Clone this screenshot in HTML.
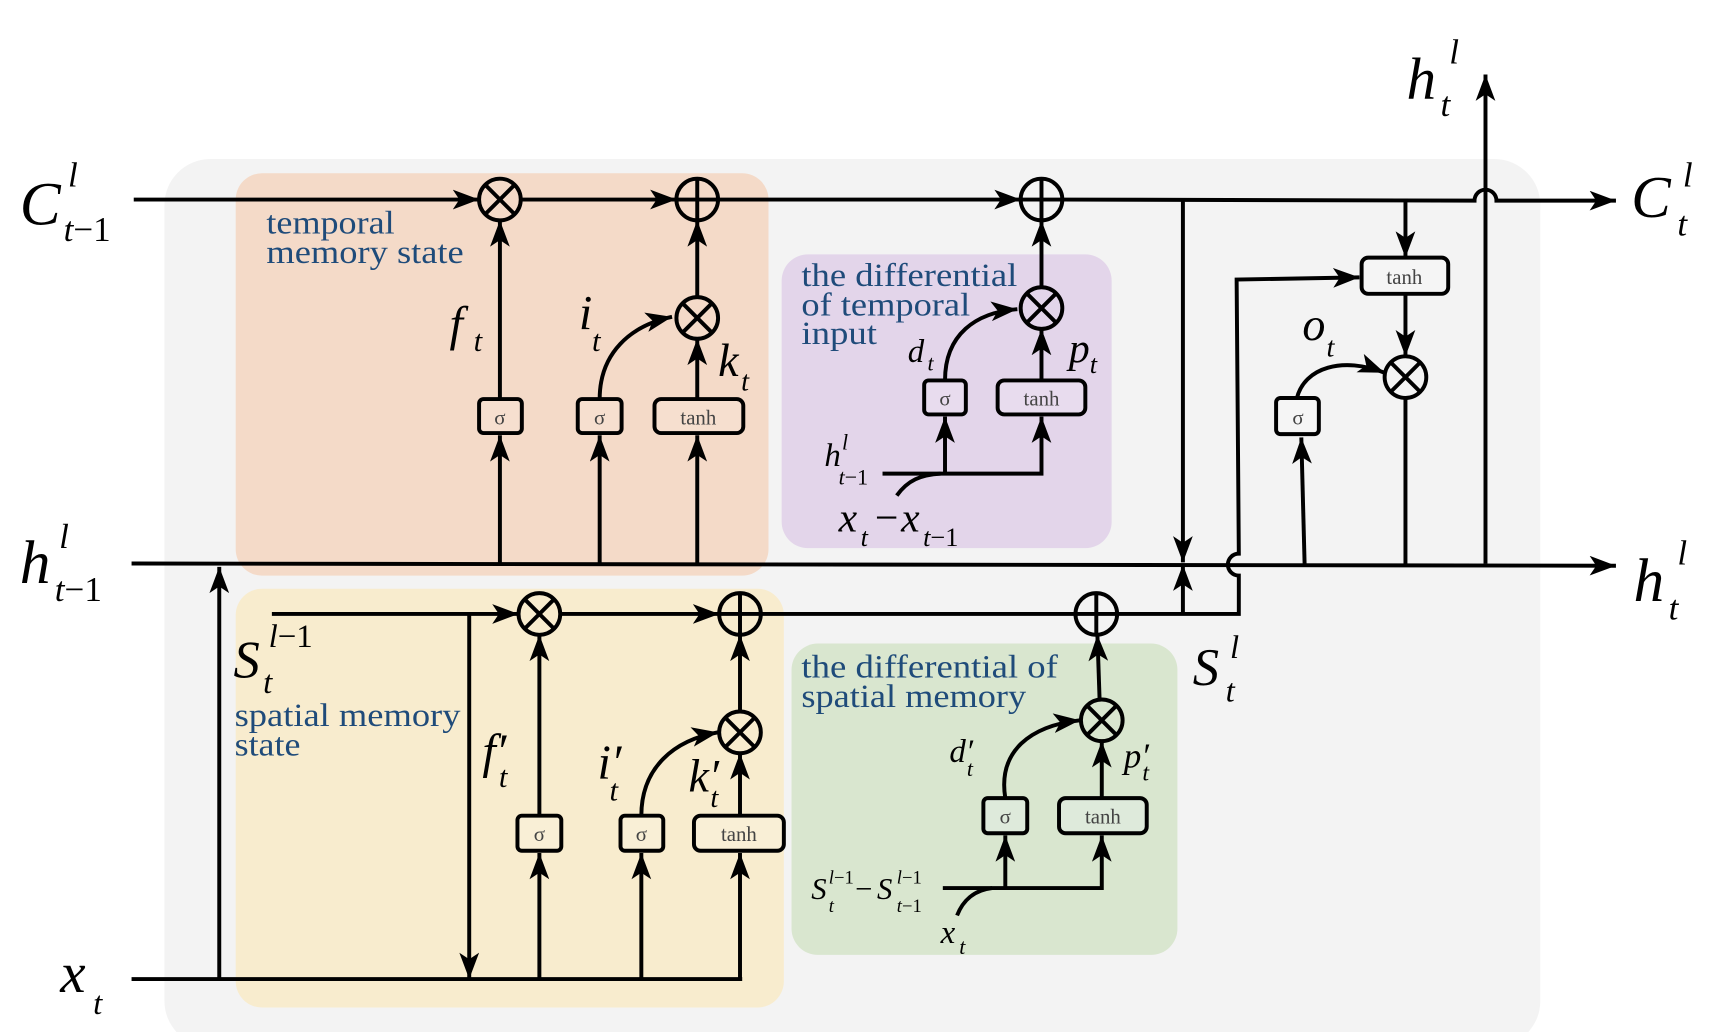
<!DOCTYPE html>
<html><head><meta charset="utf-8"><style>
html,body{margin:0;padding:0;background:#fff;}
svg{display:block;}
.l{stroke:#000;stroke-width:3.6;fill:none;}
.m{font-family:"Liberation Serif","DejaVu Serif",serif;font-style:italic;fill:#000;}
.b{font-family:"Liberation Serif","DejaVu Serif",serif;fill:#1f4b7a;font-size:30px;}
.g{font-family:"Liberation Serif","DejaVu Serif",serif;fill:#444;font-size:19px;text-anchor:middle;}
.box{stroke:#000;stroke-width:3.6;}
</style></head><body>
<svg width="1719" height="1032" viewBox="0 0 1568 941.3" preserveAspectRatio="none" xmlns="http://www.w3.org/2000/svg">
<defs>
<marker id="a" markerUnits="userSpaceOnUse" markerWidth="26" markerHeight="20" refX="24" refY="9" orient="auto"><path d="M0,0 L24,9 L0,18 L6,9 z" fill="#000"/></marker>
</defs>
<rect x="0" y="0" width="1568" height="942" fill="#fff"/>
<rect x="150" y="145" width="1255" height="810" rx="42" fill="#f3f3f3"/>
<rect x="215" y="158" width="486" height="367" rx="24" fill="#f4dac8"/>
<rect x="713" y="232" width="301" height="268" rx="24" fill="#e3d5ea"/>
<rect x="215" y="537" width="500" height="382" rx="24" fill="#f8ecce"/>
<rect x="722" y="587" width="352" height="284" rx="24" fill="#d9e6cf"/>

<!-- C line -->
<path class="l" d="M122,182 L437,182" marker-end="url(#a)"/>
<path class="l" d="M475,182 L617,182" marker-end="url(#a)"/>
<path class="l" d="M655,182 L931,182" marker-end="url(#a)"/>
<path class="l" d="M969,182 L1345,183 A10,10 0 0 1 1365,183 L1474,183" marker-end="url(#a)"/>
<!-- h line -->
<path class="l" d="M120,514 L1474,516" marker-end="url(#a)"/>
<!-- x line -->
<path class="l" d="M120,893 L677,893"/>
<path class="l" d="M200,893 L200,517" marker-end="url(#a)"/>
<!-- S line -->
<path class="l" d="M248,560 L473,560" marker-end="url(#a)"/>
<path class="l" d="M511,560 L656,560" marker-end="url(#a)"/>
<path class="l" d="M694,560 L1130,560 L1130,525 A10,10 0 0 1 1130,505 L1128,255 L1240,253" marker-end="url(#a)"/>
<path class="l" d="M428,560 L428,893" marker-end="url(#a)"/>
<path class="l" d="M1079,182 L1079,513" marker-end="url(#a)"/>
<path class="l" d="M1079,560 L1079,515" marker-end="url(#a)"/>
<!-- h_t up -->
<path class="l" d="M1355,514 L1355,68" marker-end="url(#a)"/>

<!-- orange gates -->
<path class="l" d="M456,514 L456,397" marker-end="url(#a)"/>
<path class="l" d="M456,364 L456,201" marker-end="url(#a)"/>
<path class="l" d="M547,514 L547,397" marker-end="url(#a)"/>
<path class="l" d="M547,364 C547,322 575,297 613,289" marker-end="url(#a)"/>
<path class="l" d="M636,514 L636,397" marker-end="url(#a)"/>
<path class="l" d="M636,364 L636,309" marker-end="url(#a)"/>
<path class="l" d="M636,271 L636,201" marker-end="url(#a)"/>
<rect class="box" x="437" y="364" width="39" height="31" rx="4" fill="#f6dfcf"/><text class="g" x="456" y="387">σ</text>
<rect class="box" x="527" y="364" width="40" height="31" rx="4" fill="#f6dfcf"/><text class="g" x="547" y="387">σ</text>
<rect class="box" x="597" y="364" width="81" height="31" rx="6" fill="#f6dfcf"/><text class="g" x="637" y="387">tanh</text>

<!-- purple -->
<path class="l" d="M805,432 L950,432 L950,380" marker-end="url(#a)"/>
<path class="l" d="M862,432 L862,380" marker-end="url(#a)"/>
<path class="l" d="M818,452 C828,438 840,433 858,432"/>
<path class="l" d="M862,347 C862,305 890,285 928,282" marker-end="url(#a)"/>
<path class="l" d="M950,347 L950,300" marker-end="url(#a)"/>
<path class="l" d="M950,261 L950,201" marker-end="url(#a)"/>
<rect class="box" x="843" y="347" width="38" height="31" rx="4" fill="#e8dcee"/><text class="g" x="862" y="370">σ</text>
<rect class="box" x="910" y="347" width="80" height="31" rx="6" fill="#e8dcee"/><text class="g" x="950" y="370">tanh</text>

<!-- right output gate -->
<path class="l" d="M1282,183 L1282,235" marker-end="url(#a)"/>
<path class="l" d="M1282,269 L1282,325" marker-end="url(#a)"/>
<path class="l" d="M1282,514 L1282,363"/>
<path class="l" d="M1190,514 L1187,399" marker-end="url(#a)"/>
<path class="l" d="M1183,363 C1190,335 1225,325 1263,340" marker-end="url(#a)"/>
<rect class="box" x="1242" y="235" width="79" height="33" rx="6" fill="#f5f5f5"/><text class="g" x="1281" y="259">tanh</text>
<rect class="box" x="1164" y="363" width="39" height="33" rx="4" fill="#f5f5f5"/><text class="g" x="1184" y="387">σ</text>

<!-- yellow gates -->
<path class="l" d="M492,893 L492,778" marker-end="url(#a)"/>
<path class="l" d="M492,744 L492,579" marker-end="url(#a)"/>
<path class="l" d="M585,893 L585,778" marker-end="url(#a)"/>
<path class="l" d="M585,744 C585,700 615,675 655,668" marker-end="url(#a)"/>
<path class="l" d="M675,893 L675,778" marker-end="url(#a)"/>
<path class="l" d="M675,744 L675,687" marker-end="url(#a)"/>
<path class="l" d="M675,649 L675,579" marker-end="url(#a)"/>
<rect class="box" x="472" y="744" width="40" height="32" rx="4" fill="#f9efd6"/><text class="g" x="492" y="767">σ</text>
<rect class="box" x="566" y="744" width="39" height="32" rx="4" fill="#f9efd6"/><text class="g" x="585" y="767">σ</text>
<rect class="box" x="633" y="744" width="82" height="32" rx="6" fill="#f9efd6"/><text class="g" x="674" y="767">tanh</text>

<!-- green -->
<path class="l" d="M860,810 L1005,810 L1005,762" marker-end="url(#a)"/>
<path class="l" d="M917,810 L917,762" marker-end="url(#a)"/>
<path class="l" d="M873,835 C878,822 888,812 905,810"/>
<path class="l" d="M917,728 C910,685 940,662 985,657" marker-end="url(#a)"/>
<path class="l" d="M1005,728 L1005,676" marker-end="url(#a)"/>
<path class="l" d="M1003,638 L1001,579" marker-end="url(#a)"/>
<rect class="box" x="897" y="728" width="40" height="32" rx="4" fill="#deeadb"/><text class="g" x="917" y="751">σ</text>
<rect class="box" x="966" y="728" width="80" height="32" rx="6" fill="#deeadb"/><text class="g" x="1006" y="751">tanh</text>

<!-- circles -->
<g fill="none" stroke="#000" stroke-width="3.6">
<g transform="translate(456,182)"><circle r="19" fill="#f4dac8"/><path d="M-13,-13 L13,13 M13,-13 L-13,13"/></g>
<g transform="translate(636,182)"><circle r="19" fill="#f4dac8"/><path d="M-19,0 L19,0 M0,-19 L0,19"/></g>
<g transform="translate(636,290)"><circle r="19" fill="#f4dac8"/><path d="M-13,-13 L13,13 M13,-13 L-13,13"/></g>
<g transform="translate(950,182)"><circle r="19" fill="#f3f3f3"/><path d="M-19,0 L19,0 M0,-19 L0,19"/></g>
<g transform="translate(950,281)"><circle r="19" fill="#e3d5ea"/><path d="M-13,-13 L13,13 M13,-13 L-13,13"/></g>
<g transform="translate(1282,344)"><circle r="19" fill="#f3f3f3"/><path d="M-13,-13 L13,13 M13,-13 L-13,13"/></g>
<g transform="translate(492,560)"><circle r="19" fill="#f8ecce"/><path d="M-13,-13 L13,13 M13,-13 L-13,13"/></g>
<g transform="translate(675,560)"><circle r="19" fill="#f8ecce"/><path d="M-19,0 L19,0 M0,-19 L0,19"/></g>
<g transform="translate(675,668)"><circle r="19" fill="#f8ecce"/><path d="M-13,-13 L13,13 M13,-13 L-13,13"/></g>
<g transform="translate(1000,560)"><circle r="19" fill="#f3f3f3"/><path d="M-19,0 L19,0 M0,-19 L0,19"/></g>
<g transform="translate(1005,657)"><circle r="19" fill="#d9e6cf"/><path d="M-13,-13 L13,13 M13,-13 L-13,13"/></g>
</g>

<!-- blue labels -->
<text class="b" x="243" y="213" textLength="117" lengthAdjust="spacingAndGlyphs">temporal</text>
<text class="b" x="243" y="240" textLength="180" lengthAdjust="spacingAndGlyphs">memory state</text>
<text class="b" x="731" y="261" textLength="197" lengthAdjust="spacingAndGlyphs">the differential</text>
<text class="b" x="731" y="288" textLength="154" lengthAdjust="spacingAndGlyphs">of temporal</text>
<text class="b" x="731" y="314" textLength="69" lengthAdjust="spacingAndGlyphs">input</text>
<text class="b" x="214" y="662" textLength="206" lengthAdjust="spacingAndGlyphs">spatial memory</text>
<text class="b" x="214" y="689" textLength="60" lengthAdjust="spacingAndGlyphs">state</text>
<text class="b" x="731" y="618" textLength="234" lengthAdjust="spacingAndGlyphs">the differential of</text>
<text class="b" x="731" y="645" textLength="205" lengthAdjust="spacingAndGlyphs">spatial memory</text>

<!-- math labels -->
<g class="m">
<text x="18" y="205" font-size="56">C</text><text x="62" y="170" font-size="32">l</text><text x="58" y="220" font-size="32">t<tspan font-style="normal">−1</tspan></text>
<text x="18" y="532" font-size="56">h</text><text x="54" y="500" font-size="32">l</text><text x="50" y="548" font-size="32">t<tspan font-style="normal">−1</tspan></text>
<text x="55" y="905" font-size="52">x</text><text x="85" y="925" font-size="30">t</text>
<text x="1488" y="198" font-size="54">C</text><text x="1535" y="170" font-size="32">l</text><text x="1530" y="215" font-size="32">t</text>
<text x="1490" y="548" font-size="56">h</text><text x="1530" y="515" font-size="32">l</text><text x="1522" y="565" font-size="32">t</text>
<text x="1283" y="90" font-size="54">h</text><text x="1322" y="58" font-size="32">l</text><text x="1314" y="106" font-size="32">t</text>
<text x="213" y="618" font-size="48">S</text><text x="245" y="590" font-size="30">l<tspan font-style="normal">−1</tspan></text><text x="240" y="632" font-size="30">t</text>
<text x="1088" y="625" font-size="48">S</text><text x="1122" y="600" font-size="30">l</text><text x="1118" y="640" font-size="30">t</text>
<text x="410" y="310" font-size="44">f</text><text x="432" y="320" font-size="28">t</text>
<text x="528" y="300" font-size="44">i</text><text x="540" y="320" font-size="28">t</text>
<text x="655" y="343" font-size="42">k</text><text x="676" y="356" font-size="26">t</text>
<text x="1188" y="310" font-size="42">o</text><text x="1210" y="325" font-size="26">t</text>
<text x="828" y="330" font-size="30">d</text><text x="846" y="338" font-size="20">t</text>
<text x="975" y="330" font-size="38">p</text><text x="994" y="340" font-size="24">t</text>
<text x="752" y="425" font-size="30">h</text><text x="768" y="410" font-size="20">l</text><text x="765" y="442" font-size="20">t<tspan font-style="normal">−1</tspan></text>
<text x="765" y="485" font-size="38">x</text><text x="785" y="498" font-size="24">t</text><text x="798" y="485" font-size="38" font-style="normal">−</text><text x="822" y="485" font-size="38">x</text><text x="842" y="498" font-size="24">t<tspan font-style="normal">−1</tspan></text>
<text x="440" y="700" font-size="44">f′</text><text x="455" y="718" font-size="28">t</text>
<text x="545" y="710" font-size="44">i′</text><text x="556" y="730" font-size="28">t</text>
<text x="628" y="722" font-size="42">k′</text><text x="648" y="736" font-size="26">t</text>
<text x="866" y="695" font-size="30">d′</text><text x="882" y="708" font-size="20">t</text>
<text x="1025" y="700" font-size="32">p′</text><text x="1042" y="712" font-size="22">t</text>
<text x="740" y="820" font-size="28">S</text><text x="756" y="806" font-size="17">l<tspan font-style="normal">−1</tspan></text><text x="756" y="832" font-size="17">t</text>
<text x="780" y="820" font-size="28" font-style="normal">−</text><text x="800" y="820" font-size="28">S</text><text x="818" y="806" font-size="17">l<tspan font-style="normal">−1</tspan></text><text x="818" y="832" font-size="17">t<tspan font-style="normal">−1</tspan></text>
<text x="858" y="860" font-size="30">x</text><text x="875" y="870" font-size="20">t</text>
</g>
</svg>
</body></html>
